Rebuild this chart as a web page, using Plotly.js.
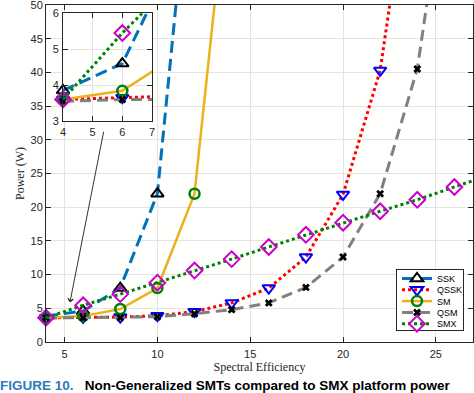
<!DOCTYPE html>
<html>
<head>
<meta charset="utf-8">
<script src="https://cdn.plot.ly/plotly-3.0.1.min.js"></script>
<style>
html,body{margin:0;padding:0;background:#fff;}
#chart{width:474px;height:393px;}
</style>
</head>
<body>
<div id="chart"></div>
<script>
// Spectral efficiency (x) values, one every 2 bits
var specEff = [4, 6, 8, 10, 12, 14, 16, 18, 20, 22, 24, 26, 28];
// Power (W) per scheme
var ssk  = [3.85, 4.6, 8.0, 22.0, 78];
var qssk = [3.6, 3.65, 3.7, 3.9, 4.5, 5.8, 8.0, 12.6, 21.9, 40.3, 78];
var sm   = [3.6, 3.84, 4.9, 8.0, 22.0, 74];
var qsm  = [3.55, 3.6, 3.6, 3.75, 4.2, 4.8, 5.8, 8.1, 12.6, 22.0, 40.5, 78];
var smx  = [3.6, 5.45, 7.1, 8.8, 10.6, 12.3, 14.1, 15.9, 17.7, 19.4, 21.1, 23.0, 24.9];

var names = ['SSK', 'QSSK', 'SM', 'QSM', 'SMX'];
var series = [ssk, qssk, sm, qsm, smx];

var mainXTicks = [5, 10, 15, 20, 25];
var insetXTicks = [4, 5, 6, 7];
var insetYTicks = [3, 4, 5, 6];

var styles = [
  {line: {color: '#0072BD', width: 3, dash: '12px,6px'},
   marker: {symbol: 'triangle-up-open', size: 11, color: '#000000', line: {width: 2, color: '#000000'}}},
  {line: {color: '#FF0000', width: 3, dash: '3px,3px'},
   marker: {symbol: 'triangle-down-open', size: 11, color: '#0000FF', line: {width: 2, color: '#0000FF'}}},
  {line: {color: '#EDB120', width: 2.5},
   marker: {symbol: 'circle-open', size: 10, color: '#008000', line: {width: 2.5, color: '#008000'}}},
  {line: {color: '#808080', width: 3, dash: '11px,6px'},
   marker: {symbol: 'x', size: 7, color: '#000000', line: {width: 0}}},
  {line: {color: '#008000', width: 3, dash: '3px,3px'},
   marker: {symbol: 'diamond-open', size: 12, color: '#CC00CC', line: {width: 2, color: '#CC00CC'}}}
];

var traces = [];
series.forEach(function (vals, i) {
  traces.push({
    type: 'scatter', mode: 'lines+markers', name: names[i],
    x: specEff.slice(0, vals.length), y: vals,
    line: styles[i].line, marker: styles[i].marker,
    xaxis: 'x', yaxis: 'y', cliponaxis: false
  });
});
series.forEach(function (vals, i) {
  traces.push({
    type: 'scatter', mode: 'lines+markers', name: names[i], showlegend: false,
    x: specEff.slice(0, vals.length), y: vals,
    line: styles[i].line, marker: styles[i].marker,
    xaxis: 'x2', yaxis: 'y2', cliponaxis: false
  });
});

var axisCommon = {
  showline: true, linecolor: '#262626', linewidth: 1, mirror: 'ticks',
  ticks: 'inside', ticklen: 5, tickcolor: '#262626', tickwidth: 1,
  showgrid: true, gridcolor: '#e3e3e3', gridwidth: 1, zeroline: false,
  ticklabeloverflow: 'allow',
  tickfont: {family: 'Liberation Sans, Arial, sans-serif', size: 11, color: '#262626'}
};

var layout = {
  width: 474, height: 393,
  margin: {l: 46, r: 1, t: 5, b: 51, pad: 0},
  paper_bgcolor: '#ffffff',
  plot_bgcolor: '#fffffe',
  showlegend: true,
  xaxis: Object.assign({}, axisCommon, {
    range: [4, 27], tickmode: 'array', tickvals: mainXTicks,
    ticklabelstandoff: 2,
    title: {text: 'Spectral Efficiency', font: {family: 'Liberation Serif, serif', size: 12, color: '#262626'}, standoff: 1}
  }),
  yaxis: Object.assign({}, axisCommon, {
    range: [0, 50], dtick: 5, tick0: 0,
    ticklabelstandoff: 0,
    title: {text: 'Power (W)', font: {family: 'Liberation Serif, serif', size: 12, color: '#262626'}, standoff: 3}
  }),
  xaxis2: Object.assign({}, axisCommon, {
    domain: [0.0398, 0.2482], anchor: 'y2', range: [4, 7],
    tickmode: 'array', tickvals: insetXTicks, ticklabelstandoff: 1
  }),
  yaxis2: Object.assign({}, axisCommon, {
    domain: [0.6558, 0.9754], anchor: 'x2', range: [3, 6],
    tickmode: 'array', tickvals: insetYTicks, ticklabelstandoff: 1
  }),
  legend: {
    x: 0.975, xanchor: 'right', y: 0.032, yanchor: 'bottom',
    bgcolor: '#ffffff', bordercolor: '#262626', borderwidth: 1,
    font: {family: 'Liberation Sans, Arial, sans-serif', size: 9, color: '#000000'},
    tracegroupgap: 0, itemwidth: 30
  },
  annotations: [
    {xref: 'x', yref: 'y', x: 5.29, y: 5.9, ax: 34, ay: -172,
     showarrow: true, arrowhead: 4, arrowsize: 1.3, arrowwidth: 0.8, arrowcolor: '#000000', text: ''},
    {xref: 'paper', yref: 'paper', x: -0.113, y: -0.1018, xanchor: 'left', yanchor: 'top',
     showarrow: false,
     text: '<b><span style="color:#2b7bbd">FIGURE 10.</span>   Non-Generalized SMTs compared to SMX platform power</b>',
     font: {family: 'Liberation Sans, Arial, sans-serif', size: 13.5, color: '#000000'}}
  ]
};

// Compact the legend rows to the tighter spacing of the original figure
function compactLegend(gd) {
  var leg = gd.querySelector('g.legend');
  if (!leg) return;
  var items = leg.querySelectorAll('g.traces');
  var step = 11.3, firstY = 9.5, boxW = 68, boxH = 62, boxLeft = 396, boxTop = 269;
  items.forEach(function (it, i) {
    var t = it.getAttribute('transform') || '';
    var m = /translate\(\s*([-\d.]+)[ ,]+([-\d.]+)\s*\)/.exec(t);
    var tx = m ? parseFloat(m[1]) : 1;
    it.setAttribute('transform', 'translate(' + tx + ',' + (firstY + i * step) + ')');
  });
  var bg = leg.querySelector('rect.bg');
  if (bg) {
    bg.setAttribute('x', 0.5);
    bg.setAttribute('y', 0.5);
    bg.setAttribute('width', boxW - 1);
    bg.setAttribute('height', boxH - 1);
  }
  leg.setAttribute('transform', 'translate(' + boxLeft + ',' + boxTop + ')');
}

Plotly.newPlot('chart', traces, layout, {staticPlot: true, displayModeBar: false})
  .then(compactLegend);
</script>
</body>
</html>
